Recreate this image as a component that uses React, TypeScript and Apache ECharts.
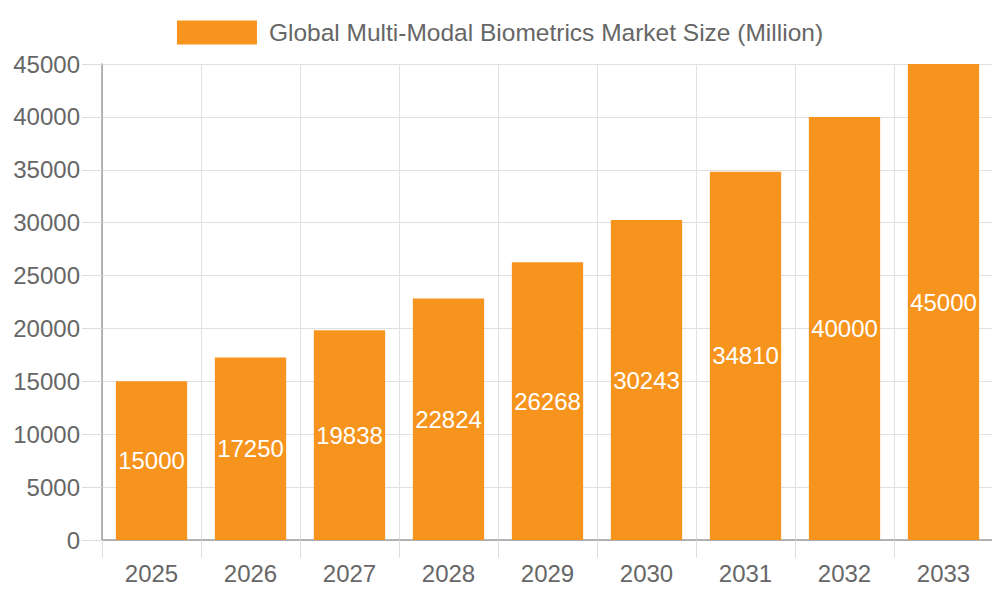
import { useEffect, useRef } from "react";
import * as echarts from "echarts";

const years = ["2025", "2026", "2027", "2028", "2029", "2030", "2031", "2032", "2033"];
const marketSize = [15000, 17250, 19838, 22824, 26268, 30243, 34810, 40000, 45000];
const seriesName = "Global Multi-Modal Biometrics Market Size (Million)";

const FONT = "'Liberation Sans', Arial, sans-serif";

export default function App() {
  const chartRef = useRef<HTMLDivElement>(null);

  useEffect(() => {
    if (!chartRef.current) return;
    const chart = echarts.init(chartRef.current, undefined, { renderer: "svg" });

    chart.setOption({
      animation: false,
      textStyle: { fontFamily: FONT },
      legend: {
        top: 15,
        left: "center",
        itemWidth: 80,
        itemHeight: 24,
        icon: "rect",
        textStyle: { color: "#666", fontSize: 24.5, fontFamily: FONT, padding: [0, 0, 0, 7] },
        data: [seriesName],
      },
      grid: { left: 102, right: 7, top: 64, bottom: 60, containLabel: false },
      xAxis: {
        type: "category",
        data: years,
        boundaryGap: true,
        axisLine: { lineStyle: { color: "#9e9e9e", width: 1.5 } },
        axisTick: { show: true, length: 18, interval: 0, lineStyle: { color: "#ddd" } },
        axisLabel: { color: "#666", fontSize: 24, margin: 21, fontFamily: FONT },
        splitLine: { show: true, interval: 0, lineStyle: { color: "#e0e0e0" } },
      },
      yAxis: {
        type: "value",
        min: 0,
        max: 45000,
        interval: 5000,
        axisLine: { show: true, lineStyle: { color: "#9e9e9e", width: 1.5 } },
        axisTick: { show: true, length: 20, lineStyle: { color: "#ddd" } },
        axisLabel: {
          color: "#666",
          fontSize: 24,
          margin: 22,
          fontFamily: FONT,
          formatter: (v: number) => String(v),
        },
        splitLine: { show: true, lineStyle: { color: "#e0e0e0" } },
      },
      series: [
        {
          name: seriesName,
          type: "bar",
          data: marketSize,
          barWidth: "72%",
          itemStyle: { color: "#F7941E" },
          label: {
            show: true,
            position: "inside",
            color: "#fff",
            fontSize: 24,
            fontFamily: FONT,
          },
        },
      ],
    });

    return () => chart.dispose();
  }, []);

  return <div ref={chartRef} style={{ width: 1000, height: 600, margin: -8 }} />;
}
